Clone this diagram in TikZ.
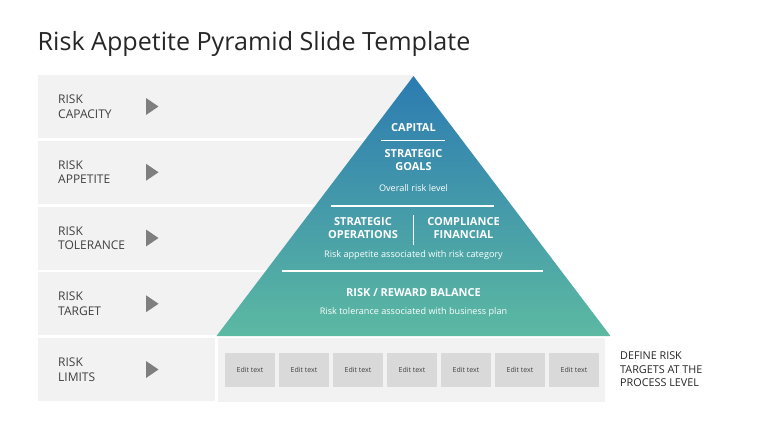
\documentclass[tikz,border=0pt]{standalone}
\usepackage{fontspec}
\setmainfont{Open Sans}
\usetikzlibrary{positioning}
\definecolor{rowgray}{HTML}{F2F2F2}
\definecolor{boxgray}{HTML}{D9D9D9}
\definecolor{arrowgray}{HTML}{7F7F7F}
\definecolor{ink}{HTML}{404040}
\definecolor{titleink}{HTML}{262626}
\definecolor{pyrtop}{HTML}{2C7BB1}
\definecolor{pyrbot}{HTML}{5CB9A2}
\tikzset{
  rowbox/.style={fill=rowgray, inner sep=0pt, anchor=north west, minimum height=63pt},
  lab/.style={text=ink, font=\fontsize{12}{14.5}\selectfont, align=left, anchor=west, inner sep=0pt},
  head/.style={text=white, font=\fontsize{11}{13}\selectfont\bfseries, align=center, inner sep=0pt},
  note/.style={text=white, font=\fontsize{9.1}{10}\selectfont, inner sep=0pt},
  cell/.style={fill=boxgray, minimum width=50pt, minimum height=34pt, inner sep=0pt,
    text=ink, font=\fontsize{7}{8}\selectfont},
  sep/.style={draw=white, line width=1.3pt},
  thinsep/.style={draw=white, line width=0.6pt},
}
\begin{document}
\begin{tikzpicture}[x=1pt, y=-1pt]
  \useasboundingbox (0,0) rectangle (768,432);
  \node[text=titleink, font=\fontsize{25.1}{28}\selectfont, anchor=base west, inner sep=0pt]
    (title) at (37.5,50) {Risk Appetite Pyramid Slide Template};

  % left rows
  \foreach \i/\a/\b in {1/CAPACITY, 2/APPETITE, 3/TOLERANCE, 4/TARGET, 5/LIMITS} {
    \pgfmathsetmacro{\ytop}{75+65.75*(\i-1)}
    \ifnum\i<5
      \node[rowbox, minimum width=375pt] (row\i) at (38,\ytop) {};
    \else
      \node[rowbox, minimum width=177pt] (row\i) at (38,\ytop) {};
    \fi
    \node[lab] (lab\i) at (58,\ytop+31.5) {RISK\\\a};
    \fill[arrowgray] (146,\ytop+23) -- (158.5,\ytop+31.5) -- (146,\ytop+40) -- cycle;
  }
  \node[rowbox, minimum width=387pt, minimum height=64pt] (panel) at (218,338) {};

  % pyramid
  \coordinate (apex) at (413.5,76);
  \coordinate (bl) at (216.5,336);
  \coordinate (br) at (610.5,336);
  \shade[top color=pyrtop, bottom color=pyrbot] (apex) -- (bl) -- (br) -- cycle;
  \draw[sep] (381,140.5) -- (445,140.5);
  \draw[sep] (331,206) -- (494,206);
  \draw[sep] (282,271) -- (543,271);
  \draw[thinsep] (413.5,215) -- (413.5,245);

  \node[head] (capital) at (413.5,127.5) {CAPITAL};
  \node[head] (goals) at (413.5,160.5) {STRATEGIC\\GOALS};
  \node[note] (overall) at (413.5,188.5) {Overall risk level};
  \node[head] (ops) at (363,228.5) {STRATEGIC\\OPERATIONS};
  \node[head] (fin) at (463.5,228.5) {COMPLIANCE\\FINANCIAL};
  \node[note] (appetite) at (413.5,255.5) {Risk appetite\ associated\ with risk category};
  \node[head] (balance) at (413.5,292.5) {RISK / REWARD BALANCE};
  \node[note] (tolerance) at (413.5,312.5) {Risk tolerance\ associated\ with business plan};

  % bottom cells
  \foreach \j in {0,...,6}
    \node[cell] (cell\j) at (250+54*\j,370) {Edit text};

  \node[text=titleink, font=\fontsize{10.8}{13.5}\selectfont, align=left, anchor=west, inner sep=0pt]
    (define) at (620,369.5) {DEFINE RISK\\TARGETS AT THE\\PROCESS LEVEL};
\end{tikzpicture}
\end{document}
